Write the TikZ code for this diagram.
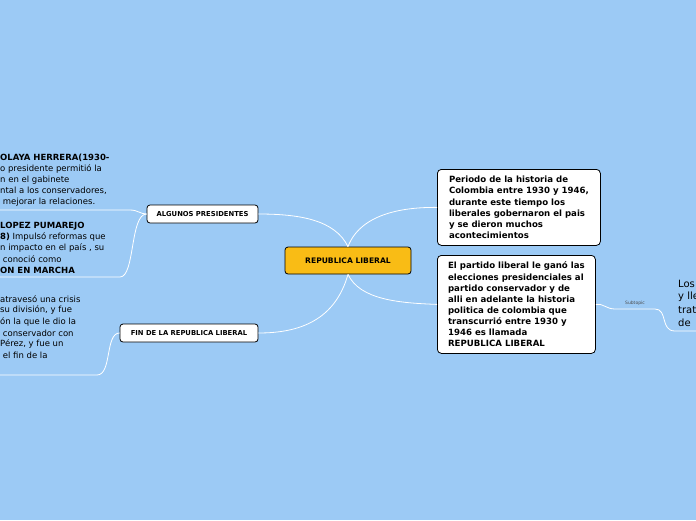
\documentclass[tikz,border=0pt]{standalone}
\usepackage{fontspec}
\setmainfont{DejaVu Sans}
\definecolor{bg}{HTML}{9CCAF5}
\definecolor{cen}{HTML}{F9BC15}
\begin{document}
\begin{tikzpicture}[x=1pt,y=-1pt,
  box/.style={draw=black,fill=white,rounded corners=3pt,line width=0.8pt,font=\fontsize{6.8}{8}\selectfont\bfseries},
  big/.style={draw=black,fill=white,rounded corners=4pt,line width=0.8pt,align=left,anchor=north west,inner xsep=8pt,inner ysep=6pt,font=\fontsize{8.6}{11.1}\selectfont\bfseries},
  link/.style={white,line width=0.8pt},
  txt/.style={anchor=west,inner sep=0pt,font=\fontsize{8.5}{10}\selectfont}]
\fill[bg] (0,0) rectangle (696,520);
\useasboundingbox (0,0) rectangle (696,520);
\node[box,fill=cen,minimum width=126pt,minimum height=27pt,font=\fontsize{7.6}{9}\selectfont\bfseries] (c) at (348,260.5) {REPUBLICA LIBERAL};
\node[box,minimum width=111pt,minimum height=18pt] (a) at (202.5,214) {ALGUNOS PRESIDENTES};
\node[box,minimum width=138pt,minimum height=18pt] (f) at (189,333) {FIN DE LA REPUBLICA LIBERAL};
\node[big,minimum width=163pt,minimum height=76pt] (p1) at (437,169) {Periodo de la historia de\\Colombia entre 1930 y 1946,\\durante este tiempo los\\liberales gobernaron el pais\\y se dieron muchos\\acontecimientos};
\node[big,minimum width=158pt,minimum height=98pt] (p2) at (437,255) {El partido liberal le ganó las\\elecciones presidenciales al\\partido conservador y de\\alli en adelante la historia\\politica de colombia que\\transcurrió entre 1930 y\\1946 es llamada\\REPUBLICA LIBERAL};
% connectors
\draw[link] (c.north) .. controls (360,215) and (400,207) .. (p1.west);
\draw[link] (c.south) .. controls (360,300) and (400,303) .. (p2.west);
\draw[link] (c.north) .. controls (335,220) and (300,214) .. (a.east);
\draw[link] (c.south) .. controls (335,320) and (300,333) .. (f.east);
% left text blocks
\coordinate (l1) at (0,210); \coordinate (l2) at (0,277); \coordinate (l3) at (0,375);
\draw[link] (l1) -- (130,210) .. controls (138,210) and (140,214) .. (a.west);
\draw[link] (l2) -- (120,277) .. controls (135,277) and (130,214) .. (a.west);
\draw[link] (l3) -- (97,375) .. controls (112,375) and (105,333) .. (f.west);
\node[txt,font=\fontsize{8.5}{10}\selectfont\bfseries] (t1) at (0,158) {OLAYA HERRERA(1930-};
\node[txt] (t2) at (0,169) {o presidente permitió la};
\node[txt] (t3) at (0,180) {n en el gabinete};
\node[txt] (t4) at (0,191) {ntal a los conservadores,};
\node[txt] (t5) at (0,202) {\ mejorar la relaciones.};
\node[txt,font=\fontsize{8.5}{10}\selectfont\bfseries] (t6) at (0,226) {LOPEZ PUMAREJO};
\node[txt] (t7) at (0,237) {\textbf{8)} Impulsó reformas que};
\node[txt] (t8) at (0,248) {n impacto en el país , su};
\node[txt] (t9) at (0,259) {\ conoció como};
\node[txt,font=\fontsize{8.5}{10}\selectfont\bfseries] (t10) at (0,270) {ON EN MARCHA};
\node[txt] (u1) at (0,299) {atravesó una crisis};
\node[txt] (u2) at (0,310) {su división, y fue};
\node[txt] (u3) at (0,322) {ón la que le dio la};
\node[txt] (u4) at (0,333) {\ conservador con};
\node[txt] (u5) at (0,344) {Pérez, y fue un};
\node[txt] (u6) at (0,355) {\ el fin de la};
% right subtopic
\coordinate (r1) at (696,331);
\draw[link] (p2.east) .. controls (603,303) and (606,309) .. (615,309) -- (655,309) .. controls (668,309) and (660,331) .. (675,331) -- (r1);
\node[inner sep=0pt,font=\fontsize{4.5}{5}\selectfont,text=black!70] (s) at (635,303) {Subtopic};
\node[txt,font=\fontsize{10}{13}\selectfont] (v1) at (678,284) {Los};
\node[txt,font=\fontsize{10}{13}\selectfont] (v2) at (678,297) {y lle};
\node[txt,font=\fontsize{10}{13}\selectfont] (v3) at (678,310) {trat};
\node[txt,font=\fontsize{10}{13}\selectfont] (v4) at (678,323) {de};
\end{tikzpicture}
\end{document}
